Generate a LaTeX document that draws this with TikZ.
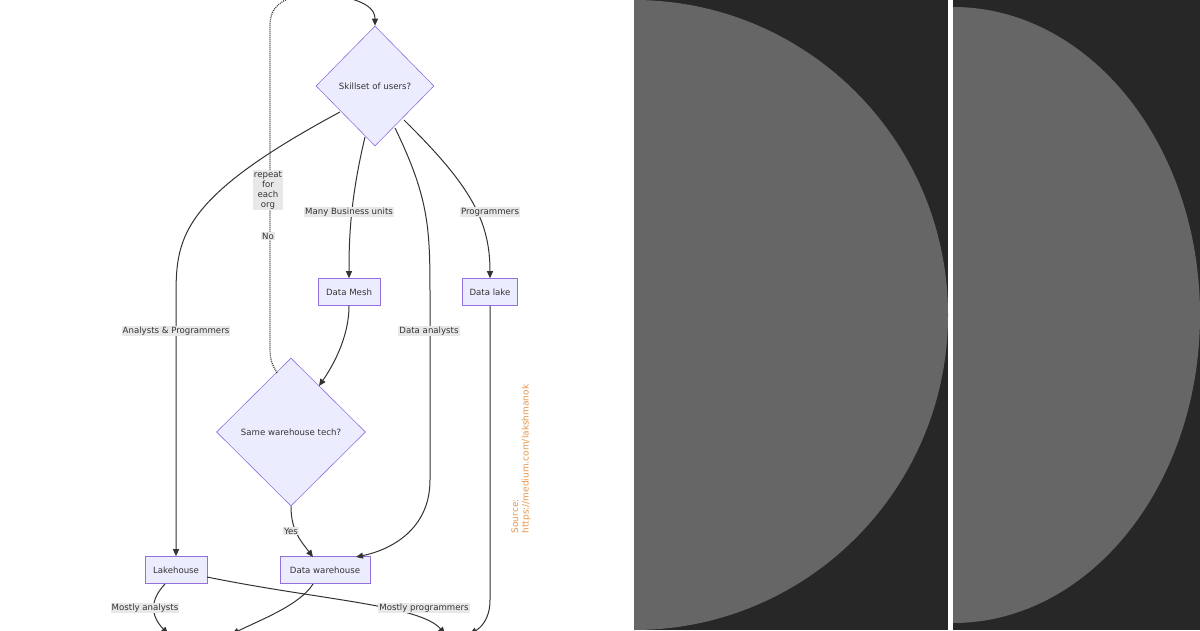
\documentclass[tikz,border=0pt]{standalone}
\usepackage{fontspec}
\setmainfont{DejaVu Sans}
\usetikzlibrary{shapes.geometric,arrows.meta}
\definecolor{nfill}{HTML}{ECECFF}
\definecolor{nline}{HTML}{9370DB}
\definecolor{edge}{HTML}{333333}
\definecolor{lbg}{HTML}{E8E8E8}
\definecolor{src}{HTML}{E8954A}
\definecolor{dark}{HTML}{272727}
\definecolor{disc}{HTML}{666666}
\begin{document}
\begin{tikzpicture}[x=1pt,y=-1pt,
  box/.style={draw=nline,fill=nfill,line width=0.6pt,minimum width=62pt,minimum height=27pt,inner sep=3pt,font=\fontsize{8.6}{9}\selectfont,text=edge},
  dia/.style={diamond,draw=nline,fill=nfill,line width=0.6pt,font=\fontsize{8.6}{9}\selectfont,text=edge,inner sep=0pt},
  lab/.style={fill=lbg,inner sep=1pt,font=\fontsize{8.6}{10}\selectfont,text=edge,align=center},
  ar/.style={draw=edge,line width=1pt,-{Triangle[length=7pt,width=6pt]}},
  ln/.style={draw=edge,line width=1pt}]
\useasboundingbox (0,0) rectangle (1200,630);
\fill[white] (0,0) rectangle (634,630);
\fill[dark] (634,0) rectangle (948,630);
\fill[dark] (953,0) rectangle (1200,630);
\begin{scope}
\clip (634,0) rectangle (948,630);
\fill[disc] (634,315) ellipse (314 and 315);
\end{scope}
\begin{scope}
\clip (953,0) rectangle (1200,630);
\fill[disc] (953,315) ellipse (247 and 308);
\end{scope}

\node[dia,minimum width=118pt,minimum height=120pt] (sk) at (375,86) {Skillset of users?};
\node[dia,minimum width=149pt,minimum height=148pt] (sw) at (291,432) {Same warehouse tech?};
\node[box] (dm) at (349,292) {Data Mesh};
\node[box,minimum width=55pt] (dl) at (490,292) {Data lake};
\node[box] (lh) at (176,570) {Lakehouse};
\node[box,minimum width=90pt] (dw) at (325,570) {Data warehouse};

\coordinate (in) at (340,-4);
\coordinate (loop) at (300,-4);
\coordinate (ds) at (277,373);
\coordinate (b1) at (168,634);
\coordinate (b2) at (232,634);
\coordinate (b3) at (445,634);
\coordinate (b4) at (470,634);

\draw[ar] (in) .. controls (368,2) and (375,10) .. (sk.north);
\draw[ln,densely dotted,line width=1.2pt] (ds) .. controls (270,360) .. (270,340) -- (270,25) .. controls (270,5) and (285,-2) .. (loop);
\draw[ar] (340,112) .. controls (176,200) and (176,240) .. (176,300) -- (lh.north);
\draw[ar] (365,137) .. controls (350,200) and (349,240) .. (dm.north);
\draw[ar] (395,128) .. controls (430,200) and (430,230) .. (430,300) -- (430,480) .. controls (430,530) and (390,550) .. (356,557);
\draw[ar] (404,120) .. controls (470,185) and (490,220) .. (dl.north);
\draw[ar] (dm.south) .. controls (349,340) and (330,370) .. (319,386);
\draw[ar] (sw.south) .. controls (291,530) and (300,540) .. (313,557);
\draw[ar] (dl.south) -- (490,600) .. controls (490,620) and (480,628) .. (b4);
\draw[ar] (165,584) .. controls (150,600) and (150,615) .. (b1);
\draw[ar] (313,584) .. controls (300,605) and (260,620) .. (b2);
\draw[ar] (207,577) .. controls (320,600) and (420,605) .. (b3);

\node[lab] at (176,331) {Analysts \& Programmers};
\node[lab] at (349,212) {Many Business units};
\node[lab] at (429,331) {Data analysts};
\node[lab] at (490,212) {Programmers};
\node[lab] at (268,190) {repeat\\for\\each\\org};
\node[lab] at (268,236) {No};
\node[lab] at (291,531) {Yes};
\node[lab] at (145,608) {Mostly analysts};
\node[lab] at (424,608) {Mostly programmers};
\node[rotate=90,text=src,font=\fontsize{9}{10.5}\selectfont,align=left,anchor=center] at (521,459) {Source:\\https://medium.com/lakshmanok};
\end{tikzpicture}
\end{document}
